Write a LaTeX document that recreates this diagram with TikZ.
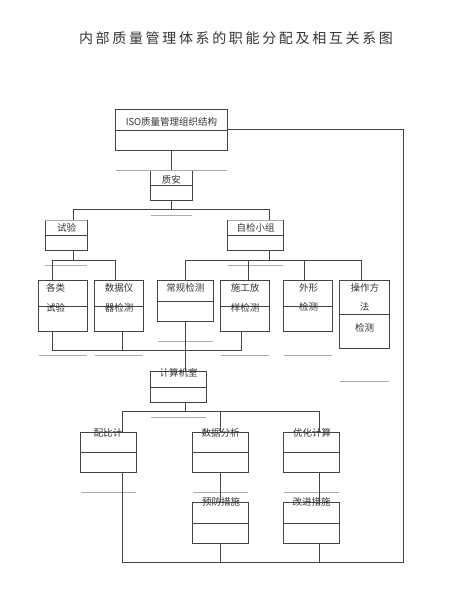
\documentclass[tikz,border=0pt]{standalone}
\usepackage{fontspec}
\setmainfont{Noto Sans CJK SC}
\newfontfamily\cjk{Noto Sans CJK SC}
\newfontfamily\cjktitle[LetterSpace=19]{Noto Sans CJK SC}
\usepackage{tikz}
\definecolor{boxgray}{HTML}{444444}
\definecolor{txtgray}{HTML}{333333}
\definecolor{ghostgray}{HTML}{AAAAAA}
\tikzset{
  bx/.style={draw=boxgray, line width=0.8pt, rectangle, inner sep=0pt},
  wire/.style={draw=boxgray, line width=0.8pt},
  ghost/.style={draw=ghostgray, line width=0.7pt},
  lbl/.style={inner sep=0pt, text=txtgray, font=\cjk\fontsize{9.5}{10}\selectfont}
}

\begin{document}
\begin{tikzpicture}[x=1pt,y=-1pt]
\useasboundingbox (0,0) rectangle (474,597);

% title
\node[inner sep=0pt, text=txtgray, font=\cjktitle\fontsize{14}{14}\selectfont] (title) at (236,38) {内部质量管理体系的职能分配及相互关系图};

% boxes
\node[bx, minimum width=112.4, minimum height=40.7] (iso) at (171.5,129.65) {};
\node[bx, minimum width=42, minimum height=30.7] (zhian) at (171.3,185.35) {};
\node[bx, minimum width=42, minimum height=30] (shiyan) at (66.3,235.7) {};
\node[bx, minimum width=56, minimum height=30] (zijian) at (255.7,235.7) {};
\node[bx, minimum width=48.6, minimum height=51] (gelei) at (63,306.2) {};
\node[bx, minimum width=49.4, minimum height=51] (shuju) at (119,306.2) {};
\node[bx, minimum width=56, minimum height=40.6] (changgui) at (185.3,301) {};
\node[bx, minimum width=49, minimum height=51] (shigong) at (245.2,306.2) {};
\node[bx, minimum width=49, minimum height=51] (waixing) at (308.2,306.2) {};
\node[bx, minimum width=49.3, minimum height=67.6] (caozuo) at (364.35,314.5) {};
\node[bx, minimum width=56.4, minimum height=30.6] (jisuan) at (178.5,387) {};
\node[bx, minimum width=56.3, minimum height=40.4] (peibi) at (108.15,452.5) {};
\node[bx, minimum width=56, minimum height=40.4] (fenxi) at (220.7,452.5) {};
\node[bx, minimum width=56, minimum height=40.4] (youhua) at (311.7,452.5) {};
\node[bx, minimum width=56, minimum height=41] (yufang) at (220.7,523.2) {};
\node[bx, minimum width=56, minimum height=41] (gaijin) at (311.7,523.2) {};

% inner rules of the boxes
\foreach \b/\y in {iso/130, zhian/185, shiyan/235, zijian/235, gelei/306.7, shuju/306.7,
  changgui/301, shigong/306.7, waixing/306.7, caozuo/314.3, jisuan/387.3,
  peibi/452.3, fenxi/452.3, youhua/452.3, yufang/523.3, gaijin/523.3}
  \draw[wire] (\b.west |- 0,\y) -- (\b.east |- 0,\y);

% faint rules
\foreach \a/\b/\y in {116/227/170, 150.7/192/215, 45/87/220, 227.7/283/220,
  45/86.7/265.3, 228.3/283.3/265.3, 158.3/213.3/341,
  39/86.7/355.7, 95/142.7/355.7, 221/269.3/355.7, 284.3/332.3/355.7,
  340/388.7/381.7, 151/206/417.3,
  81/136/492.3, 193.3/248.3/492.3, 284.3/339.3/492.3}
  \draw[ghost] (\a,\y) -- (\b,\y);

% labels
\node[lbl] (t-iso) at (171.5,121.7) {ISO质量管理组织结构};
\node[lbl] (t-zhian) at (171.3,180) {质安};
\node[lbl] (t-shiyan) at (66.7,228) {试验};
\node[lbl] (t-zijian) at (255.7,228) {自检小组};
\node[lbl] (t-gelei1) at (55.5,287.7) {各类};
\node[lbl] (t-gelei2) at (55.5,307.7) {试验};
\node[lbl] (t-shuju1) at (119,287.7) {数据仪};
\node[lbl] (t-shuju2) at (119,307.7) {器检测};
\node[lbl] (t-changgui) at (185.3,287.7) {常规检测};
\node[lbl] (t-shigong1) at (245.2,287.7) {施工放};
\node[lbl] (t-shigong2) at (245.2,307.7) {样检测};
\node[lbl] (t-waixing1) at (308.7,287.7) {外形};
\node[lbl] (t-waixing2) at (308.7,307.3) {检测};
\node[lbl] (t-caozuo1) at (364.8,287.7) {操作方};
\node[lbl] (t-caozuo2) at (364.5,306.7) {法};
\node[lbl] (t-caozuo3) at (364.5,327.7) {检测};
\node[lbl] (t-jisuan) at (178.7,373.3) {计算机室};
\node[lbl] (t-peibi) at (108,432.7) {配比计};
\node[lbl] (t-fenxi) at (220.7,432.7) {数据分析};
\node[lbl] (t-youhua) at (312,432.7) {优化计算};
\node[lbl] (t-yufang) at (221,501.7) {预防措施};
\node[lbl] (t-gaijin) at (311.7,501.7) {改进措施};

% connectors
\coordinate (bus1) at (171.7,209.3);
\coordinate (bus2) at (73.7,260.3);
\coordinate (bus3) at (269.3,260.3);
\coordinate (bus4) at (185.7,350.7);
\coordinate (bus5) at (185.7,411.7);
\coordinate (loop) at (403.3,562.7);

\draw[wire] (iso.south -| bus1) -- (zhian.north -| bus1);
\draw[wire] (zhian.south -| bus1) -- (bus1);
\draw[wire] (shiyan.north -| 73.3,0) |- (bus1);
\draw[wire] (zijian.north -| 269.3,0) |- (bus1);

\draw[wire] (shiyan.south -| bus2) -- (bus2);
\draw[wire] (gelei.north -| 52.3,0) |- (bus2);
\draw[wire] (shuju.north -| 115.3,0) |- (bus2);

\draw[wire] (zijian.south -| bus3) -- (bus3);
\foreach \b/\x in {changgui/185.7, shigong/248.3, waixing/304.7, caozuo/361}
  \draw[wire] (\b.north -| \x,0) |- (bus3);

\foreach \b/\x in {gelei/52.3, shuju/122.3, shigong/241.7}
  \draw[wire] (\b.south -| \x,0) |- (bus4);
\draw[wire] (changgui.south -| bus4) -- (jisuan.north -| bus4);

\draw[wire] (jisuan.south -| bus5) -- (bus5);
\foreach \b/\x in {peibi/122.7, fenxi/220.7, youhua/319}
  \draw[wire] (\b.north -| \x,0) |- (bus5);

\draw[wire] (fenxi.south -| 220.7,0) -- (yufang.north -| 220.7,0);
\draw[wire] (youhua.south -| 319,0) -- (gaijin.north -| 319,0);

\draw[wire] (iso.east |- 0,129) -| (loop);
\foreach \b/\x in {peibi/122.7, yufang/220.7, gaijin/319}
  \draw[wire] (\b.south -| \x,0) |- (loop);
\end{tikzpicture}
\end{document}
